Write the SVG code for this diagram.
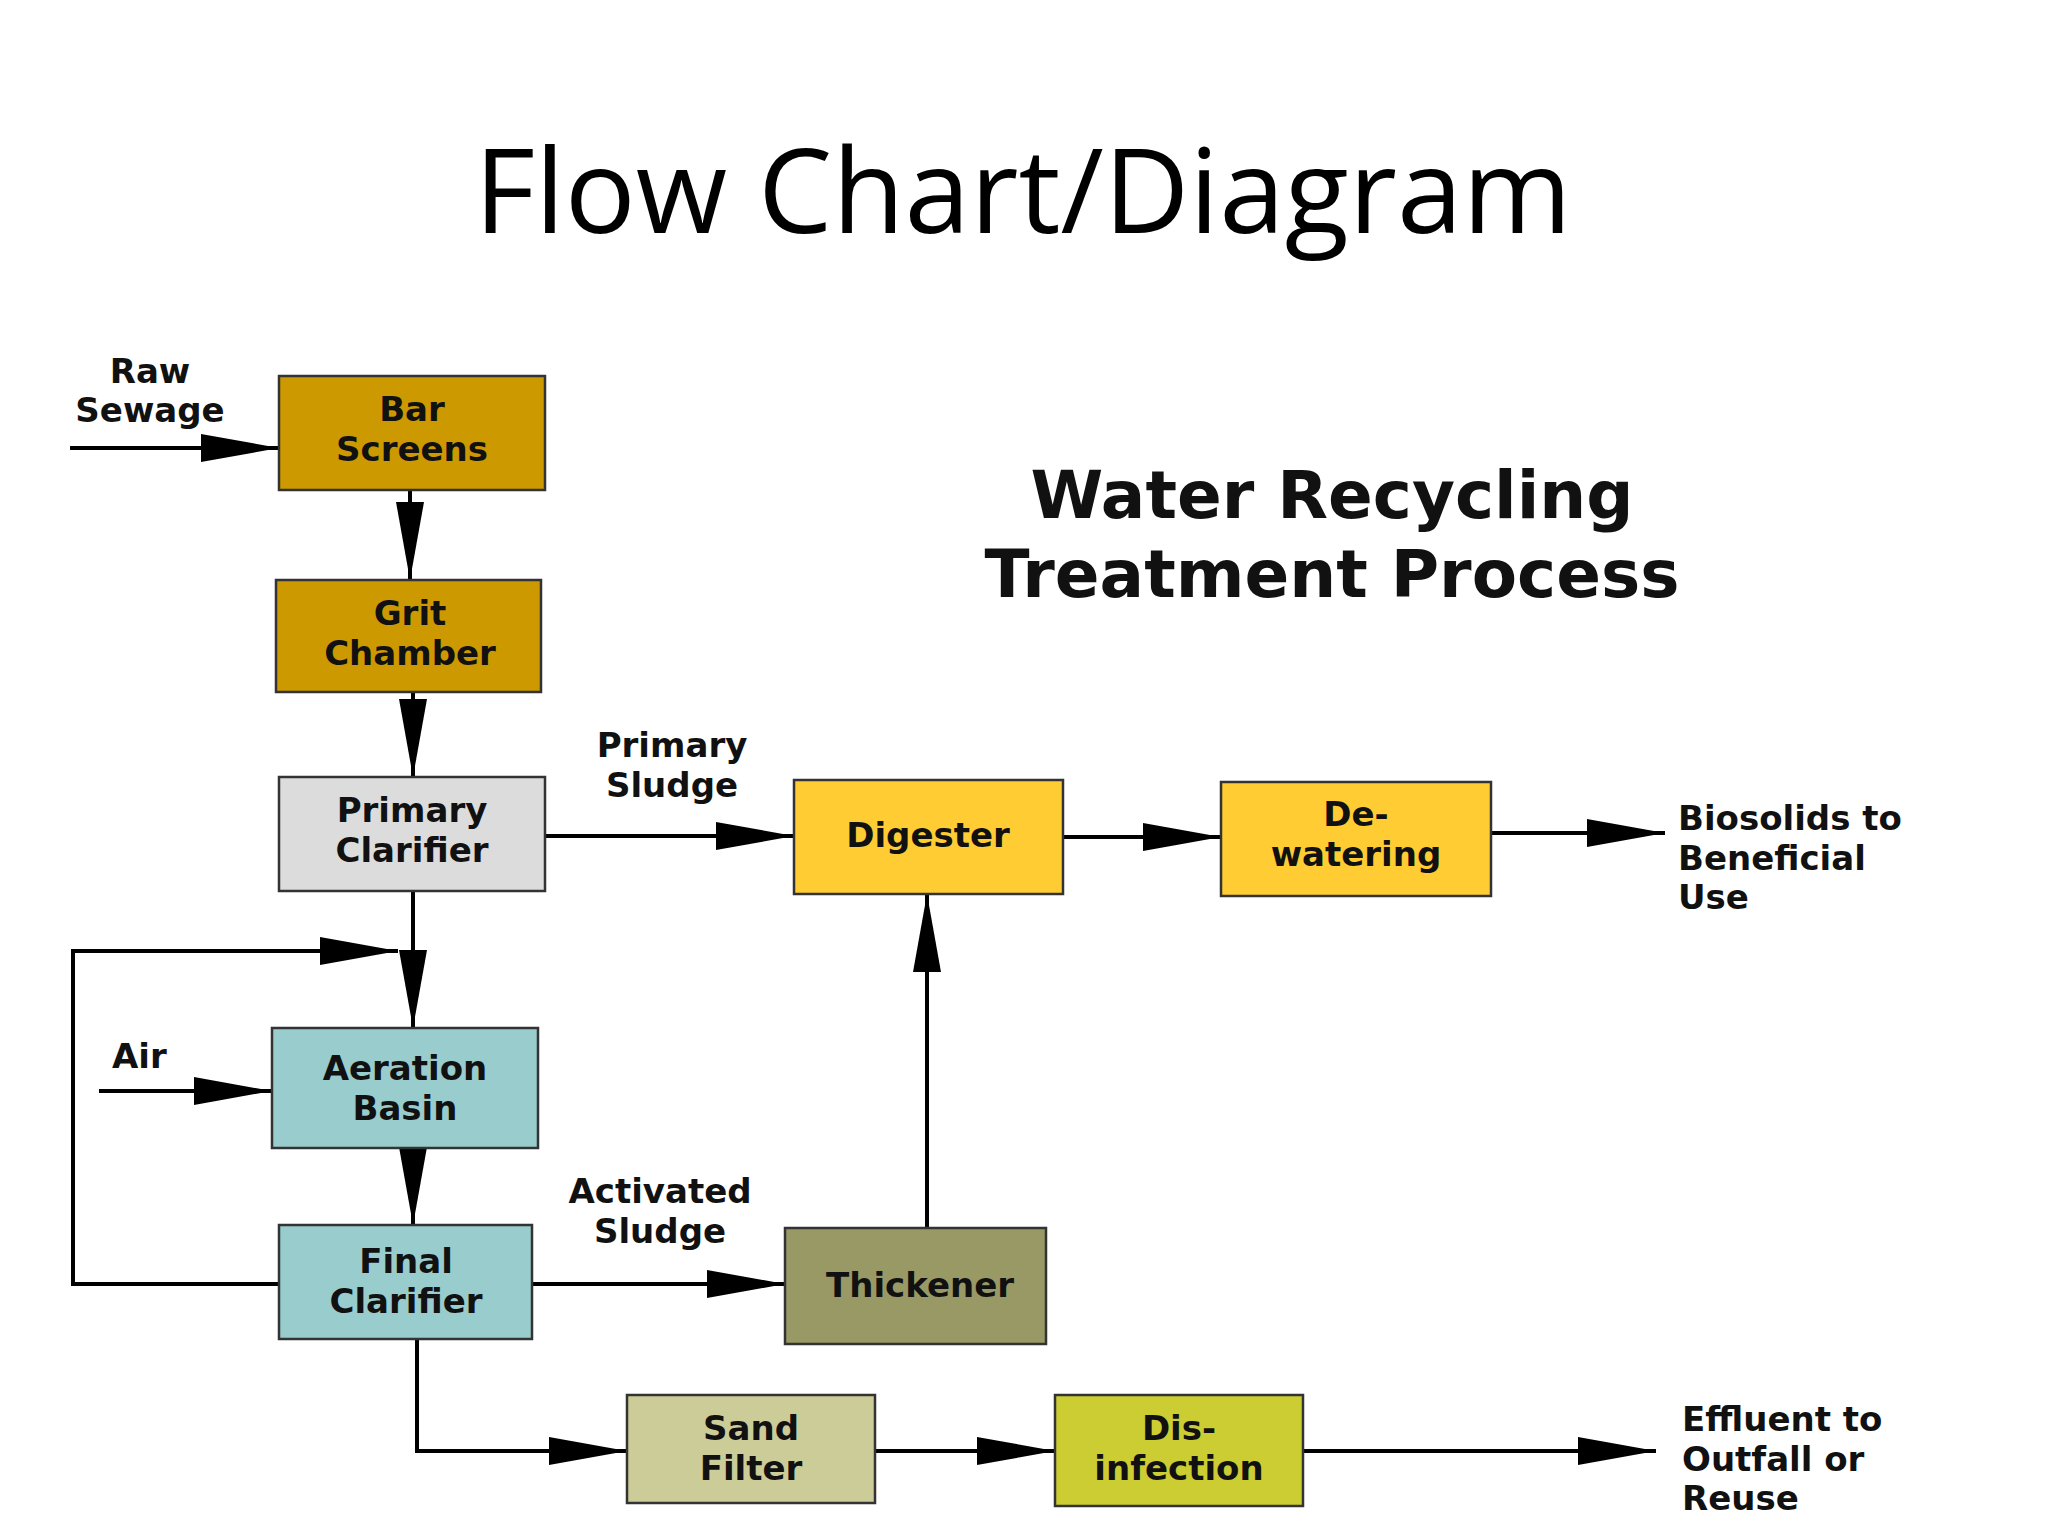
<svg xmlns="http://www.w3.org/2000/svg" width="2048" height="1536" viewBox="0 0 2048 1536">
<style>
.box{stroke:#333;stroke-width:2.5}
.bt{font-family:"DejaVu Sans",sans-serif;font-weight:bold;font-size:34px;text-anchor:middle;fill:#111}
.lb{font-family:"DejaVu Sans",sans-serif;font-weight:bold;font-size:34px;fill:#111}
.c{fill:none;stroke:#000;stroke-width:4;marker-end:url(#ah)}
.l{fill:none;stroke:#000;stroke-width:4}
</style>
<defs>
<marker id="ah" markerUnits="userSpaceOnUse" markerWidth="80" markerHeight="30" refX="78" refY="14" orient="auto"><path d="M0,0 L78,14 L0,28 Z" fill="#000"/></marker>
</defs>
<rect width="2048" height="1536" fill="#fff"/>
<text x="1023" y="233" font-family="'Open Sans',sans-serif" font-size="118" text-anchor="middle" fill="#000">Flow Chart/Diagram</text>
<g id="heading"><text x="1332" y="518" class="bt" style="font-size:66px">Water Recycling</text><text x="1332" y="597" class="bt" style="font-size:66px">Treatment Process</text></g>
<g id="connectors">
<path class="c" d="M70,448 H279"/>
<path class="c" d="M410,490 V580"/>
<path class="c" d="M413,692 V777"/>
<path class="c" d="M413,891 V1028"/>
<path class="c" d="M545,836 H794"/>
<path class="c" d="M1063,837 H1221"/>
<path class="c" d="M1491,833 H1665"/>
<path class="c" d="M99,1091 H272"/>
<path class="c" d="M413,1148 V1225"/>
<path class="c" d="M279,1284 H73 V951 H398"/>
<path class="c" d="M532,1284 H785"/>
<path class="c" d="M927,1228 V894"/>
<path class="c" d="M417,1339 V1451 H627"/>
<path class="c" d="M875,1451 H1055"/>
<path class="c" d="M1303,1451 H1656"/>
</g>
<g id="bar"><rect class="box" x="279" y="376" width="266" height="114" fill="#cc9900"/><text class="bt" x="412" y="421">Bar</text><text class="bt" x="412" y="461">Screens</text></g>
<g id="grit"><rect class="box" x="276" y="580" width="265" height="112" fill="#cc9900"/><text class="bt" x="410" y="625">Grit</text><text class="bt" x="410" y="665">Chamber</text></g>
<g id="primary"><rect class="box" x="279" y="777" width="266" height="114" fill="#dcdcdc"/><text class="bt" x="412" y="822">Primary</text><text class="bt" x="412" y="862">Clarifier</text></g>
<g id="aeration"><rect class="box" x="272" y="1028" width="266" height="120" fill="#99cccc"/><text class="bt" x="405" y="1080">Aeration</text><text class="bt" x="405" y="1120">Basin</text></g>
<g id="final"><rect class="box" x="279" y="1225" width="253" height="114" fill="#99cccc"/><text class="bt" x="406" y="1273">Final</text><text class="bt" x="406" y="1313">Clarifier</text></g>
<g id="digester"><rect class="box" x="794" y="780" width="269" height="114" fill="#ffcc33"/><text class="bt" x="928" y="847">Digester</text></g>
<g id="dewatering"><rect class="box" x="1221" y="782" width="270" height="114" fill="#ffcc33"/><text class="bt" x="1356" y="826">De-</text><text class="bt" x="1356" y="866">watering</text></g>
<g id="thickener"><rect class="box" x="785" y="1228" width="261" height="116" fill="#999966"/><text class="bt" x="920" y="1297">Thickener</text></g>
<g id="sand"><rect class="box" x="627" y="1395" width="248" height="108" fill="#cccc99"/><text class="bt" x="751" y="1440">Sand</text><text class="bt" x="751" y="1480">Filter</text></g>
<g id="disinfection"><rect class="box" x="1055" y="1395" width="248" height="111" fill="#cccc33"/><text class="bt" x="1179" y="1440">Dis-</text><text class="bt" x="1179" y="1480">infection</text></g>
<g id="labels">
<text class="bt" x="150" y="383">Raw</text><text class="bt" x="150" y="422">Sewage</text>
<text class="bt" x="672" y="757">Primary</text><text class="bt" x="672" y="797">Sludge</text>
<text class="lb" x="1678" y="830">Biosolids to</text><text class="lb" x="1678" y="870">Beneficial</text><text class="lb" x="1678" y="909">Use</text>
<text class="lb" x="112" y="1068">Air</text>
<text class="bt" x="660" y="1203">Activated</text><text class="bt" x="660" y="1243">Sludge</text>
<text class="lb" x="1682" y="1431">Effluent to</text><text class="lb" x="1682" y="1471">Outfall or</text><text class="lb" x="1682" y="1510">Reuse</text>
</g>
</svg>
